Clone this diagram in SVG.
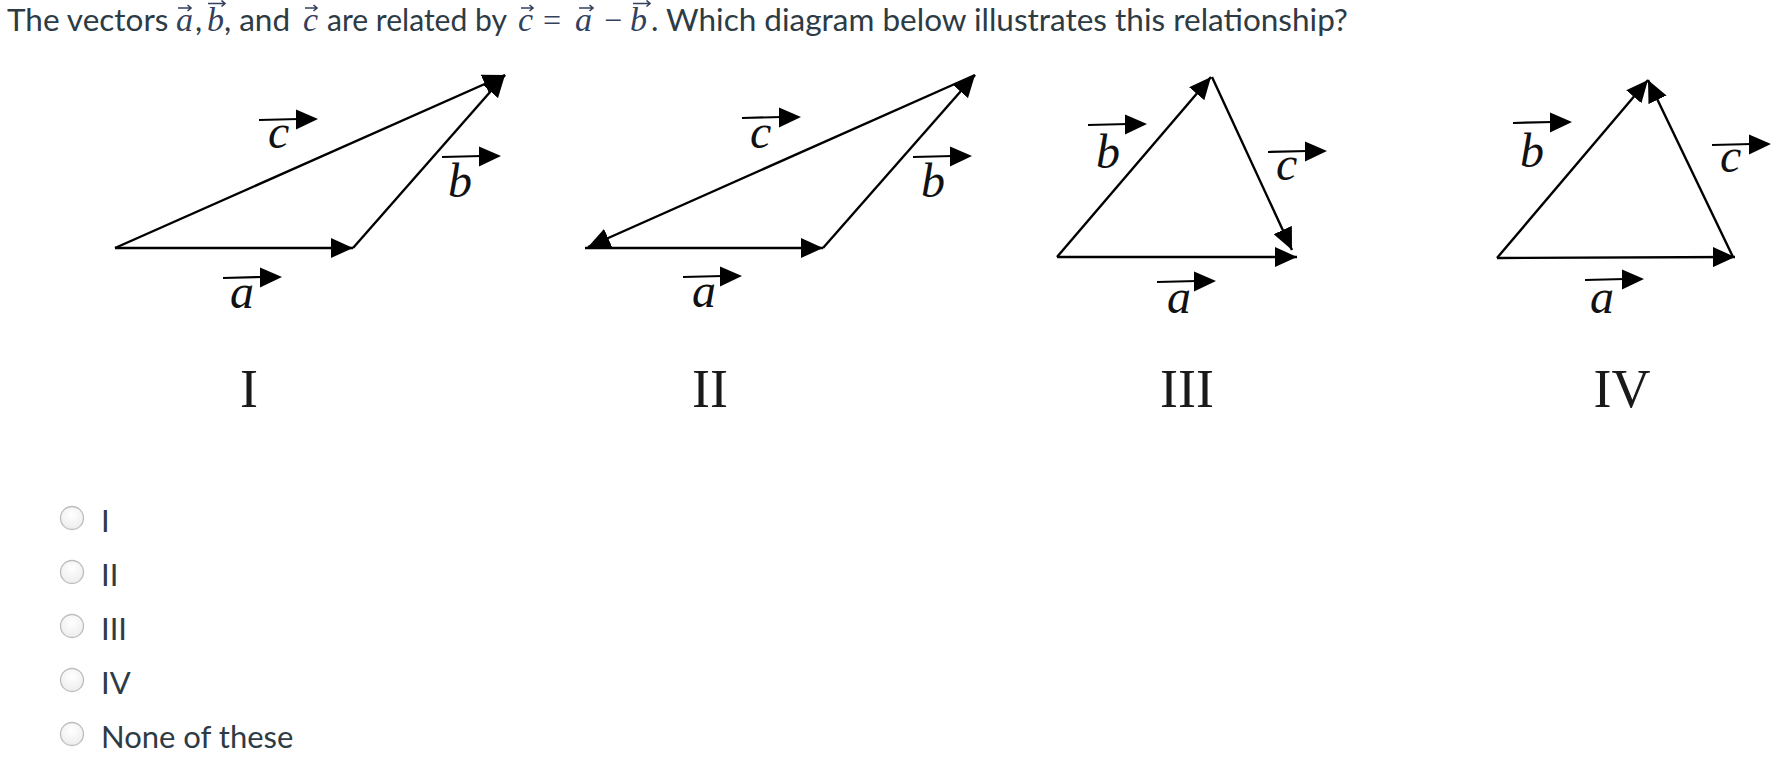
<svg xmlns="http://www.w3.org/2000/svg" xmlns:xlink="http://www.w3.org/1999/xlink" width="1776" height="766" viewBox="0 0 1776 766">
<style>
.t{font-family:Lato,"Liberation Sans",sans-serif;font-size:31.5px;fill:#2d3b45}
.o{font-family:Lato,"Liberation Sans",sans-serif;font-size:31px;fill:#2d3b45}
.m{font-family:"Liberation Serif",serif;font-style:italic;font-size:34px;fill:#33405e}
.mo{font-family:"Liberation Serif",serif;font-size:32px;fill:#33405e}
.acc{stroke:#33405e;stroke-width:1.6;fill:none}
.v{stroke:#000;stroke-width:2.4;fill:none;marker-end:url(#ah)}
.lt{font-family:"Liberation Serif",serif;font-style:italic;font-size:48px;fill:#111}
.rn{font-family:"Liberation Serif",serif;font-size:54px;fill:#1a1a1a;text-anchor:middle}
.rb{fill:url(#rg);stroke:#bdbdbd;stroke-width:1.3}
</style>
<defs>
<marker id="ah" viewBox="0 0 22 20" refX="22" refY="10" markerWidth="22" markerHeight="20" markerUnits="userSpaceOnUse" orient="auto">
<path d="M0,0 L22,10 L0,20 z" fill="#000"/>
</marker>
<g id="lab">
<path d="M0,0 L40,-1" stroke="#000" stroke-width="2.2" fill="none"/>
<path d="M37,-10.5 L59,-1 L37,9.5 z" fill="#000"/>
</g>
<radialGradient id="rg" cx="0.5" cy="0.35" r="0.7">
<stop offset="0" stop-color="#ffffff"/>
<stop offset="1" stop-color="#ececec"/>
</radialGradient>
</defs>

<g id="title">
<text class="t" x="7" y="31">The vectors</text>
<text class="m" x="176" y="31">a</text>
<path class="acc" d="M178,8 L191,8 M187.5,5 L191,8 L187.5,11"/>
<text class="t" x="195" y="31">,</text>
<text class="m" x="207" y="31">b</text>
<path class="acc" d="M208,3.5 L225,3.5 M221.5,0.5 L225,3.5 L221.5,6.5"/>
<text class="t" x="224" y="31">, and</text>
<text class="m" x="303" y="31">c</text>
<path class="acc" d="M305,8 L317,8 M313.5,5 L317,8 L313.5,11"/>
<text class="t" x="327" y="31" textLength="180" lengthAdjust="spacingAndGlyphs">are related by</text>
<text class="m" x="518" y="31">c</text>
<path class="acc" d="M521,8 L533,8 M529.5,5 L533,8 L529.5,11"/>
<text class="mo" x="543" y="31">=</text>
<text class="m" x="575" y="31">a</text>
<path class="acc" d="M579,8 L593,8 M589.5,5 L593,8 L589.5,11"/>
<text class="mo" x="604" y="31">−</text>
<text class="m" x="630" y="31">b</text>
<path class="acc" d="M633,3.5 L650,3.5 M646.5,0.5 L650,3.5 L646.5,6.5"/>
<text class="t" x="651" y="31">. Which diagram below illustrates this relationship?</text>
</g>

<g id="connectors">
<line class="v" x1="115" y1="248" x2="353" y2="248"/>
<line class="v" x1="353" y1="248" x2="505" y2="75"/>
<line class="v" x1="115" y1="248" x2="505" y2="75"/>
<line class="v" x1="585" y1="248" x2="823" y2="248"/>
<line class="v" x1="823" y1="248" x2="975" y2="75"/>
<line class="v" x1="975" y1="75" x2="588" y2="247"/>
<line class="v" x1="1057" y1="257" x2="1297" y2="257"/>
<line class="v" x1="1057" y1="257" x2="1211" y2="77"/>
<line class="v" x1="1212" y1="77" x2="1292" y2="250"/>
<line class="v" x1="1497" y1="258" x2="1735" y2="257"/>
<line class="v" x1="1497" y1="258" x2="1648" y2="80"/>
<line class="v" x1="1733" y1="257" x2="1648" y2="80"/>
</g>

<g id="diagram-I">
<use xlink:href="#lab" x="259" y="120"/><text class="lt" x="268" y="148">c</text>
<use xlink:href="#lab" x="442" y="157"/><text class="lt" x="448" y="197">b</text>
<use xlink:href="#lab" x="223" y="278"/><text class="lt" x="230" y="308">a</text>
<text class="rn" x="249" y="407">I</text>
</g>
<g id="diagram-II">
<use xlink:href="#lab" x="742" y="118"/><text class="lt" x="750" y="148">c</text>
<use xlink:href="#lab" x="913" y="157"/><text class="lt" x="921" y="197">b</text>
<use xlink:href="#lab" x="683" y="277"/><text class="lt" x="692" y="307">a</text>
<text class="rn" x="710" y="407">II</text>
</g>
<g id="diagram-III">
<use xlink:href="#lab" x="1088" y="125"/><text class="lt" x="1096" y="168">b</text>
<use xlink:href="#lab" x="1268" y="152"/><text class="lt" x="1276" y="180">c</text>
<use xlink:href="#lab" x="1157" y="282"/><text class="lt" x="1167" y="313">a</text>
<text class="rn" x="1187" y="407">III</text>
</g>
<g id="diagram-IV">
<use xlink:href="#lab" x="1513" y="123"/><text class="lt" x="1520" y="167">b</text>
<use xlink:href="#lab" x="1712" y="145"/><text class="lt" x="1720" y="172">c</text>
<use xlink:href="#lab" x="1585" y="280"/><text class="lt" x="1590" y="313">a</text>
<text class="rn" x="1622" y="407">IV</text>
</g>

<g id="options">
<g id="opt-1"><circle class="rb" cx="72" cy="518" r="11.5"/><text class="o" x="101" y="532">I</text></g>
<g id="opt-2"><circle class="rb" cx="72" cy="572" r="11.5"/><text class="o" x="101" y="586">II</text></g>
<g id="opt-3"><circle class="rb" cx="72" cy="626" r="11.5"/><text class="o" x="101" y="640">III</text></g>
<g id="opt-4"><circle class="rb" cx="72" cy="680" r="11.5"/><text class="o" x="101" y="694">IV</text></g>
<g id="opt-5"><circle class="rb" cx="72" cy="734" r="11.5"/><text class="o" x="101" y="748">None of these</text></g>
</g>
</svg>
